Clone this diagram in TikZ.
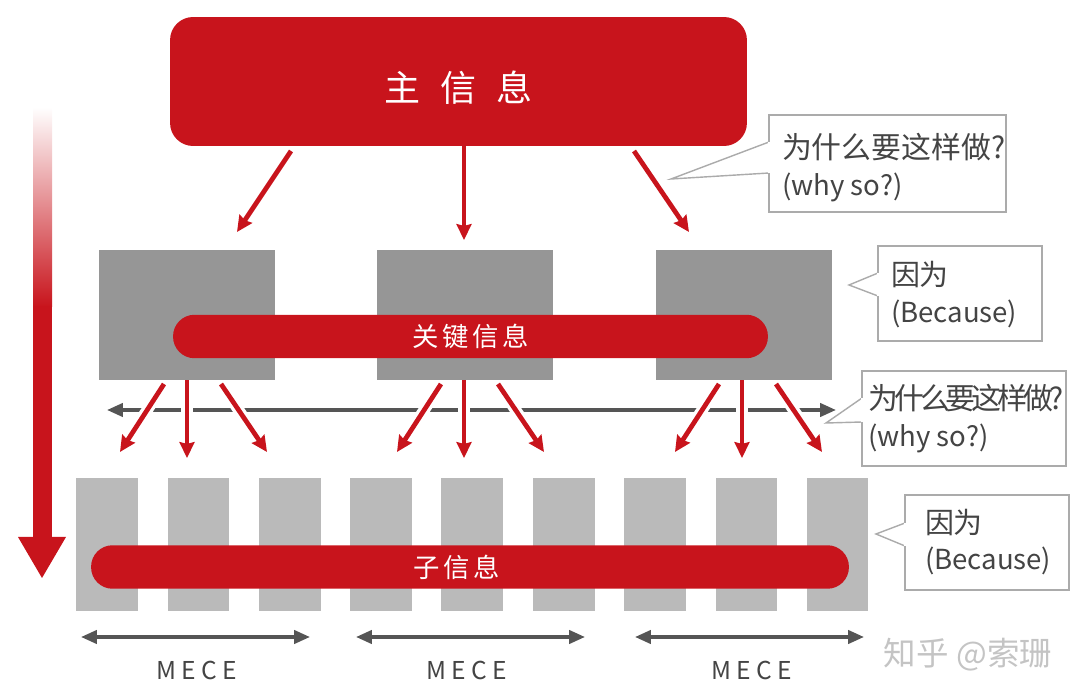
\documentclass[tikz,border=0pt]{standalone}
\usepackage{xcolor}
\usepackage{fontspec}
\setmainfont{Noto Sans CJK SC}
\newfontfamily\tightfont[LetterSpace=-13]{Noto Sans CJK SC}
\newfontfamily\widefont[LetterSpace=55]{Noto Sans CJK SC}
\newfontfamily\keyfont[LetterSpace=14]{Noto Sans CJK SC}
\newfontfamily\mecefont[LetterSpace=22]{Noto Sans CJK SC}
\usetikzlibrary{arrows.meta,shapes,calc}
\definecolor{brandred}{HTML}{C8141C}
\definecolor{darkgrey}{HTML}{969696}
\definecolor{lightgrey}{HTML}{BABABA}
\definecolor{linegrey}{HTML}{555555}
\definecolor{textgrey}{HTML}{444444}
\definecolor{boxgrey}{HTML}{ABABAB}
\definecolor{markgrey}{HTML}{C4C4C4}

\begin{document}
\begin{tikzpicture}[x=0.02cm,y=-0.02cm]
            \tikzset{block/.style = {inner sep=0pt,outer sep=0pt}}
            \tikzset{pill/.style = {block,fill=brandred,text=white,rounded corners=0.43cm,minimum height=0.87cm}}
            \tikzset{bar/.style = {block,fill=lightgrey,minimum width=1.23cm,minimum height=2.66cm}}
            \tikzset{mid/.style = {block,fill=darkgrey,minimum width=3.52cm,minimum height=2.6cm}}
            \tikzset{note/.style = {block,draw=boxgrey,line width=0.8pt,fill=white}}
            \tikzset{tail/.style = {draw=boxgrey,line width=0.8pt,fill=white}}
            \tikzset{say/.style = {block,anchor=west,text=textgrey,font=\fontsize{15.7}{18}\selectfont}}
            \tikzset{saycn/.style = {say,font=\fontsize{17}{20}\selectfont}}
            \tikzset{edge/.style = {-{Stealth[inset=1pt,length=9pt,width=8.5pt]},draw=brandred,line width=2.7pt,preaction={draw=white,line width=6.5pt,arrows=-}}}
            \tikzset{span/.style = {{Triangle[length=9pt,width=7.5pt]}-{Triangle[length=9pt,width=7.5pt]},draw=linegrey,line width=1.9pt}}

            \useasboundingbox (0,0) rectangle (1080,699);

            % time arrow
            \shade[top color=white,bottom color=brandred] (33,107) rectangle (52,307);
            \fill[brandred] (33,306) rectangle (52,538);
            \fill[brandred] (18,537) -- (66,537) -- (42,578) -- cycle;

            % cross line, goes under the red arrows
            \coordinate (crossl) at (107,410);
            \coordinate (crossr) at (836,410);
            \draw[span] (crossl) -- (crossr);

            % lower arrows
            \foreach \name/\x in {a/187,b/464,c/742}
            {
              \coordinate (\name ls) at (\x-23,384);
              \coordinate (\name le) at (\x-67,452);
              \coordinate (\name ms) at (\x,380);
              \coordinate (\name me) at (\x,458);
              \coordinate (\name rs) at (\x+34,384);
              \coordinate (\name re) at (\x+80,452);
              \draw[edge] (\name ls) -- (\name le);
              \draw[edge] (\name ms) -- (\name me);
              \draw[edge] (\name rs) -- (\name re);
            }

            % top block and grey blocks
            \node[block,fill=brandred,text=white,rounded corners=0.46cm,minimum width=11.54cm,minimum height=2.58cm,text height=25pt,text depth=2.4pt,font=\fontsize{20.5}{24}\selectfont] (main) at (458.5,81.5) {\widefont 主信息};
            \node[mid] (mida) at (187,315) {};
            \node[mid] (midb) at (465,315) {};
            \node[mid] (midc) at (744,315) {};
            \node[pill,minimum width=11.9cm,font=\fontsize{15}{18}\selectfont] (key) at (470.5,336.5) {\keyfont 关键信息};

            % upper arrows
            \coordinate (upls) at (291,151);
            \coordinate (uple) at (237,232);
            \coordinate (upms) at (464,146);
            \coordinate (upme) at (464,240);
            \coordinate (uprs) at (634,151);
            \coordinate (upre) at (689,232);
            \foreach \y in {l,m,r} {\draw[edge] (up\y s) -- (up\y e);}

            % bars
            \foreach \name/\x in {1/107,2/198.5,3/290,4/381,5/472,6/564,7/655,8/746.5,9/837.5}
            {
              \node[bar] (bar\name) at (\x,544.5) {};
            }
            \node[pill,minimum width=15.16cm,font=\fontsize{15}{18}\selectfont] (sub) at (470,567) {\keyfont 子信息\kern14.7pt\relax};

            % mece spans
            \foreach \name/\xa/\xb/\xt in {a/81/310/197,b/356/585/467,c/635/864/752}
            {
              \coordinate (spanl\name) at (\xa,637);
              \coordinate (spanr\name) at (\xb,637);
              \draw[span] (spanl\name) -- (spanr\name);
              \node[block,text=textgrey,font=\fontsize{14}{16}\selectfont] (mece\name) at (\xt,670) {\mecefont MECE};
            }

            % notes
            \node[note,minimum width=4.74cm,minimum height=1.94cm] (notea) at (887.5,163.5) {};
            \node[note,minimum width=3.28cm,minimum height=1.9cm] (noteb) at (960,293.5) {};
            \node[note,minimum width=4.08cm,minimum height=1.9cm] (notec) at (964,418.5) {};
            \node[note,minimum width=3.28cm,minimum height=1.9cm] (noted) at (987,542.5) {};
            \foreach \name/\x/\ya/\yb/\xt/\yt in {a/769/142/173/671/179,b/878/273/296/849/285,c/862/398/422/826/423,d/905/523/546/876/534}
            {
              \coordinate (tip\name) at (\xt,\yt);
              \coordinate (up\name) at (\x,\ya);
              \coordinate (dn\name) at (\x,\yb);
              \path[tail] (up\name) -- (tip\name) -- (dn\name);
              \draw[white,line width=1.4pt] (up\name) -- (dn\name);
            }
            \node[saycn] (whya) at (782,147) {为什么要这样做?};
            \node[say] (whyb) at (782,187) {(why so?)};
            \node[saycn,font=\fontsize{16.5}{20}\selectfont] (cnb) at (891,275) {因为};
            \node[say] (enb) at (891,314) {(Because)};
            \node[saycn] (whyc) at (868,398) {\tightfont 为什么要这样做?};
            \node[say] (whyd) at (868,438) {(why so?)};
            \node[saycn,font=\fontsize{16.5}{20}\selectfont] (cnd) at (925,522) {因为};
            \node[say] (end) at (925,561) {(Because)};

            % mark
            \node[block,text=markgrey,font=\fontsize{18.5}{22}\selectfont] (mark) at (968,655) {知乎 @索珊};
          \end{tikzpicture}
\end{document}
